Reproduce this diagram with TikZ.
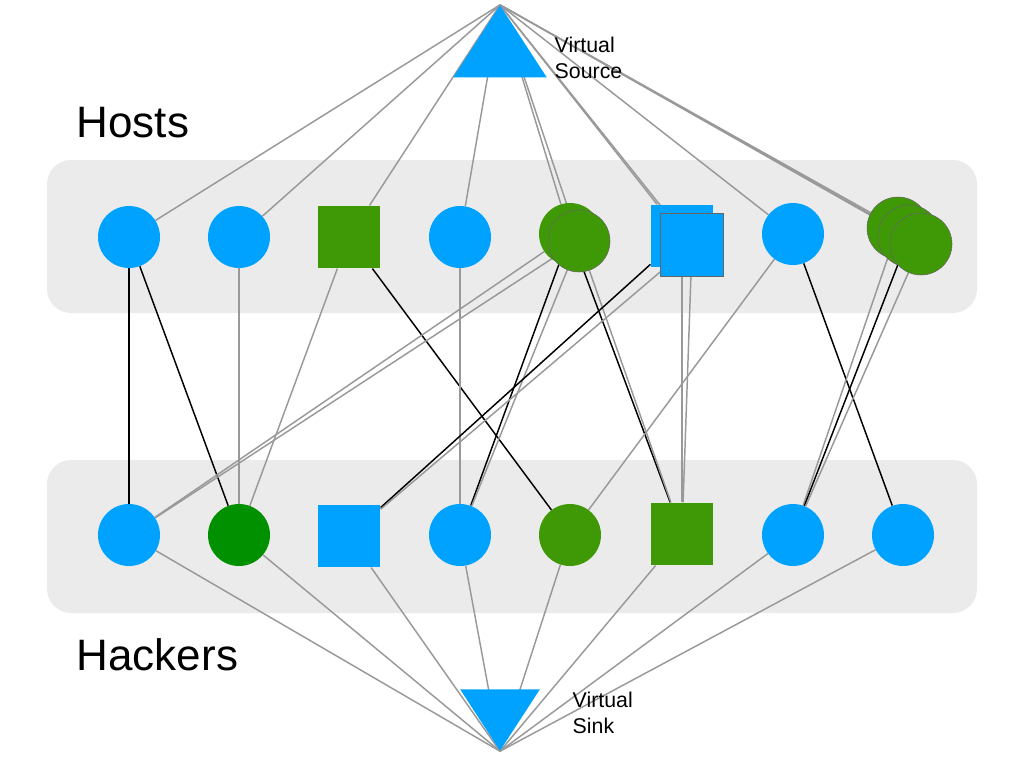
\documentclass[tikz,border=0pt]{standalone}
\usepackage{fontspec}
\setmainfont{Liberation Sans}
\usetikzlibrary{shapes.geometric}
\definecolor{hblue}{HTML}{00A2FF}
\definecolor{hgreen}{HTML}{3F9806}
\definecolor{kgreen}{HTML}{009000}
\definecolor{band}{HTML}{EBEBEB}
\pgfdeclarelayer{bg}
\pgfdeclarelayer{bands}
\pgfsetlayers{bands,bg,main}
\tikzset{
  dot/.style={circle,minimum size=46.5pt,inner sep=0pt},
  box/.style={rectangle,minimum size=47pt,inner sep=0pt},
  stack/.style={draw=black!60,line width=0.4pt},
  link/.style={line width=1.1pt,draw=black!40},
  hack/.style={line width=1.1pt,draw=black},
}
\begin{document}
\begin{tikzpicture}[x=0.75pt,y=-0.75pt]
\useasboundingbox (0,0) rectangle (1024,768);
% source and sink
\node[isosceles triangle,shape border rotate=90,isosceles triangle apex angle=66,fill=hblue,minimum height=54pt,inner sep=0pt] (src) at (500,52) {};
\node[isosceles triangle,shape border rotate=-90,isosceles triangle apex angle=66,fill=hblue,minimum height=46pt,inner sep=0pt] (snk) at (500,711) {};
\node[anchor=west,align=left,font=\fontsize{16}{19}\selectfont] at (550,58) {Virtual\\Source};
\node[anchor=west,align=left,font=\fontsize{16}{19}\selectfont] at (568,713) {Virtual\\Sink};
\node[anchor=west,font=\fontsize{33}{36}\selectfont] at (72,123) {Hosts};
\node[anchor=west,font=\fontsize{33}{36}\selectfont] at (72,655) {Hackers};
% hosts
\node[dot,fill=hblue] (h1) at (129,237) {};
\node[dot,fill=hblue] (h2) at (239,237) {};
\node[box,fill=hgreen] (h3) at (349,237) {};
\node[dot,fill=hblue] (h4) at (460,237) {};
\node[dot,fill=hgreen] (h5a) at (570,234) {};
\node[dot,fill=hgreen,stack] (h5b) at (579,241) {};
\node[box,fill=hblue] (h6a) at (682,236) {};
\node[box,fill=hblue,stack] (h6b) at (692,245) {};
\node[dot,fill=hblue] (h7) at (793,234) {};
\node[dot,fill=hgreen,stack] (h8a) at (898,228) {};
\node[dot,fill=hgreen,stack] (h8b) at (909,236) {};
\node[dot,fill=hgreen,stack] (h8c) at (921,244) {};
% hackers
\node[dot,fill=hblue] (k1) at (129,535) {};
\node[dot,fill=kgreen] (k2) at (239,535) {};
\node[box,fill=hblue] (k3) at (349,536) {};
\node[dot,fill=hblue] (k4) at (460,535) {};
\node[dot,fill=hgreen] (k5) at (570,535) {};
\node[box,fill=hgreen] (k6) at (682,534) {};
\node[dot,fill=hblue] (k7) at (793,535) {};
\node[dot,fill=hblue] (k8) at (903,535) {};
\begin{pgfonlayer}{bands}
\fill[band,rounded corners=18pt] (47,160) rectangle (977,313);
\fill[band,rounded corners=18pt] (47,460) rectangle (977,613);
\end{pgfonlayer}
\begin{pgfonlayer}{bg}
\foreach \n in {h1,h2,h3,h4,h5a,h5b,h6a,h6b,h7,h8a,h8b,h8c}
  \draw[link] (src.apex) -- (\n);
\foreach \n in {k1,k2,k3,k4,k5,k6,k7,k8}
  \draw[link] (\n) -- (snk.apex);
\draw[hack] (h1) -- (k1);
\draw[hack] (h1) -- (k2);
\draw[link] (h2) -- (k2);
\draw[link] (h3) -- (k2);
\draw[hack] (h3) -- (k5);
\draw[link] (h4) -- (k4);
\draw[link] (h5a) -- (k1);
\draw[link] (h5b) -- (k1);
\draw[hack] (h5a) -- (k4);
\draw[link] (h5b) -- (k4);
\draw[hack] (h5a) -- (k6);
\draw[link] (h5b) -- (k6);
\draw[hack] (h6a) -- (k3);
\draw[link] (h6b) -- (k3);
\draw[link] (h6a) -- (k6);
\draw[link] (h6b) -- (k6);
\draw[link] (h7) -- (k5);
\draw[hack] (h7) -- (k8);
\draw[link] (h8a) -- (k7);
\draw[hack] (h8b) -- (k7);
\draw[link] (h8c) -- (k7);
\end{pgfonlayer}
\end{tikzpicture}
\end{document}
